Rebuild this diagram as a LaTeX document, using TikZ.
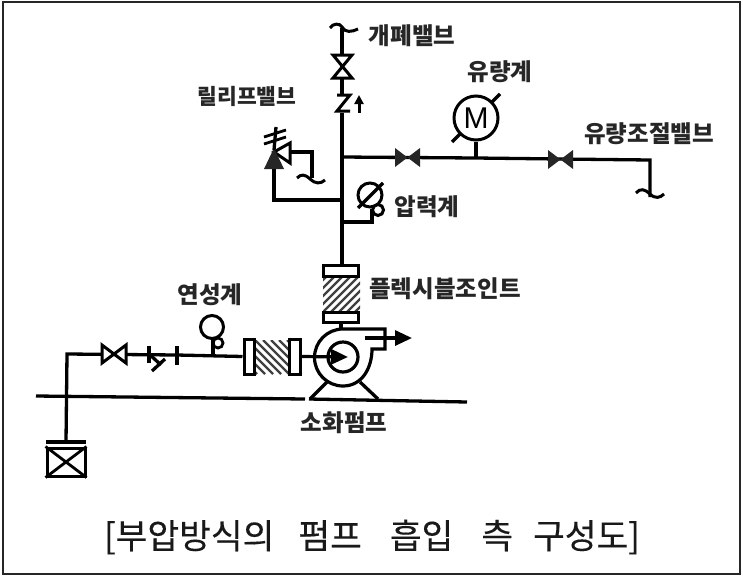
\documentclass[tikz,border=0pt]{standalone}
\usepackage{fontspec}
\usetikzlibrary{patterns,arrows.meta}
\newfontfamily\krfont{Noto Sans CJK KR}[Scale=1]
\newfontfamily\krtitle{Noto Sans CJK KR}[FakeBold=0.25]
\tikzset{
  pipe/.style={line width=3.3pt,line join=miter},
  lbl/.style={font=\krfont\fontsize{23.5}{24}\selectfont\bfseries,text=black!85,inner sep=0pt,anchor=center},
  vopen/.style={draw,line width=3pt,fill=white,line join=miter},
  flange/.style={draw,line width=3pt,fill=white},
  head/.style={-{Triangle[length=17pt,width=15pt]},line width=3.2pt}
}
\begin{document}
\begin{tikzpicture}[x=1pt,y=-1pt]
\useasboundingbox (0,0) rectangle (743,576);
\fill[white] (0,0) rectangle (743,576);
\draw[line width=2pt,black!85] (2.5,2) rectangle (739.5,574);
% floor
\coordinate (f1) at (36,396); \coordinate (f2) at (305,399);
\coordinate (f3) at (309,399); \coordinate (f4) at (467,402);
\draw[pipe] (f1) -- (f2);
\draw[pipe] (f3) -- (f4);
% main riser
\coordinate (rt) at (342,28);
\coordinate (rb) at (342,265);
\coordinate (br) at (342,157);
\draw[pipe] (rt) -- (rb);
\draw[pipe,line width=3pt] (330,28) .. controls (333,23) and (340,23) .. (342,27) .. controls (345,33) and (352,32) .. (358,29);
% open/close valve
\draw[vopen] (333,55) -- (352,55) -- (333,78) -- (352,78) -- cycle;
% check valve
\fill[white] (336,94) rectangle (351,113);
\draw[line width=3pt] (337,95) -- (350,95) -- (337,111) -- (350,111);
\draw[line width=3pt,-{Triangle[length=9pt,width=9pt]}] (359,113) -- (359,95);
% branch
\coordinate (e1) at (650,160);
\coordinate (e2) at (650,197);
\draw[pipe] (br) -- (476,158) -- (560,159) -- (e1) -- (e2);
\draw[pipe,line width=3pt] (636,193) .. controls (640,188) and (645,189) .. (650,194) .. controls (655,199) and (660,198) .. (664,194);
\fill[black!85] (395,148) -- (420,167) -- (420,148) -- (395,167) -- cycle;
\fill[black!85] (548,150) -- (573,169) -- (573,150) -- (548,169) -- cycle;
% flow meter
\node[draw,circle,line width=3pt,minimum size=44pt,inner sep=0pt,font=\fontspec{Liberation Sans}\fontsize{30}{30}\selectfont] (fm) at (476,118) {M};
\coordinate (fmt) at (476,158);
\draw[pipe] (fm.south) -- (fmt);
\draw[pipe] (452,142) -- (460,134) (492,102) -- (500,94);
% relief valve
\coordinate (rvb) at (274,168);
\coordinate (rvj) at (342,200);
\draw[pipe] (rvb) -- (274,200) -- (rvj);
\draw[pipe] (274,152) -- (312,152) -- (312,178);
\draw[vopen] (274,152) -- (290,143) -- (290,163) -- cycle;
\fill[black!85] (274,148) -- (284,169) -- (264,169) -- cycle;
\draw[pipe] (274,150) -- (276,127);
\draw[pipe,line width=2.8pt] (264,137) -- (286,130) (264,144) -- (286,137);
\draw[pipe,line width=3pt] (297,178) .. controls (301,174) and (305,174) .. (310,179) .. controls (315,184) and (321,184) .. (325,180);
% pressure gauge
\node[draw,circle,line width=3pt,minimum size=24pt,inner sep=0pt] (pg) at (370,195) {};
\draw[pipe] (358,208) -- (383,183);
\node[draw,circle,line width=3pt,minimum size=11pt,inner sep=0pt,fill=white] (pgs) at (378,210) {};
\draw[pipe] (372,209) -- (372,222) -- (342,222);
% vertical flex joint
\begin{scope}
\clip (323,276) rectangle (360,312);
\foreach \i in {-40,-32,...,80} \draw[line width=2.2pt,black!75] (323+\i,312) -- (323+\i+36,276);
\end{scope}
\node[flange,minimum width=35pt,minimum height=11pt,inner sep=0pt] (vf1) at (340.5,270.5) {};
\node[flange,minimum width=35pt,minimum height=10pt,inner sep=0pt] (vf2) at (340.5,317) {};
% horizontal flex joint
\begin{scope}
\clip (255,340) rectangle (289,374);
\foreach \i in {-40,-32,...,60} \draw[line width=2.2pt,black!75] (255+\i,340) -- (255+\i+34,374);
\end{scope}
\node[flange,minimum width=10pt,minimum height=35pt,inner sep=0pt] (hf1) at (249,356.5) {};
\node[flange,minimum width=11pt,minimum height=35pt,inner sep=0pt] (hf2) at (294.5,356.5) {};
% pump
\draw[pipe] (341,322) -- (341,329);
\draw[line width=3.2pt,fill=white] (343,329) -- (385,329) -- (385,349) -- (372,349)
  .. controls (372,368) and (362,386) .. (343,386) arc[start angle=90,end angle=270,radius=28.5] -- cycle;
\node[draw,circle,line width=3.2pt,minimum size=30pt,inner sep=0pt] (imp) at (343,357) {};
\draw[pipe] (310,399) -- (327,382);
\draw[pipe] (360,382) -- (378,399);
\coordinate (pin) at (348,357);
\coordinate (pout) at (412,338);
\coordinate (pst) at (365,338);
\draw[head] (hf2.east) -- (pin);
\draw[head] (pst) -- (pout);
% suction line
\coordinate (s1) at (67,354);
\coordinate (s2) at (66,442);
\draw[pipe] (hf1.west) -- (177,355) -- (s1) -- (s2);
% foot box
\node[draw,line width=3pt,minimum width=38pt,minimum height=28pt,inner sep=0pt] (box) at (66,462) {};
\draw[line width=2.8pt] (box.north west) -- (box.south east) (box.north east) -- (box.south west);
\draw[pipe] (46,442) -- (86,442);
% suction valve
\draw[vopen] (102,345) -- (126,363) -- (126,345) -- (102,363) -- cycle;
% strainer
\draw[pipe] (149,346) -- (149,363);
\draw[pipe] (148,353) -- (161,365);
\draw[pipe] (152,371) -- (165,359);
\draw[pipe] (177,346) -- (177,365);
% compound gauge
\node[draw,circle,line width=3pt,minimum size=23pt,inner sep=0pt] (cg) at (212,327) {};
\node[draw,circle,line width=2.8pt,minimum size=10pt,inner sep=0pt,fill=white] (cgs) at (218,343) {};
\coordinate (cgb) at (213,355);
\draw[pipe] (213,338) -- (cgb);
% labels
\node[lbl] at (412,36) {개폐밸브};
\node[lbl,font=\krfont\fontsize{21.5}{22}\selectfont\bfseries] at (247,96) {릴리프밸브};
\node[lbl] at (500,72) {유량계};
\node[lbl] at (649,134) {유량조절밸브};
\node[lbl] at (427,207) {압력계};
\node[lbl] at (445,289) {플렉시블조인트};
\node[lbl] at (210,295) {연성계};
\node[lbl] at (344,423) {소화펌프};
\node[inner sep=0pt,font=\krtitle\fontsize{34.5}{35}\selectfont,text=black!90] at (372,537) {[부압방식의\hspace{24pt}펌프\hspace{28pt}흡입\hspace{28pt}측\hspace{20pt}구성도]};
\end{tikzpicture}
\end{document}
